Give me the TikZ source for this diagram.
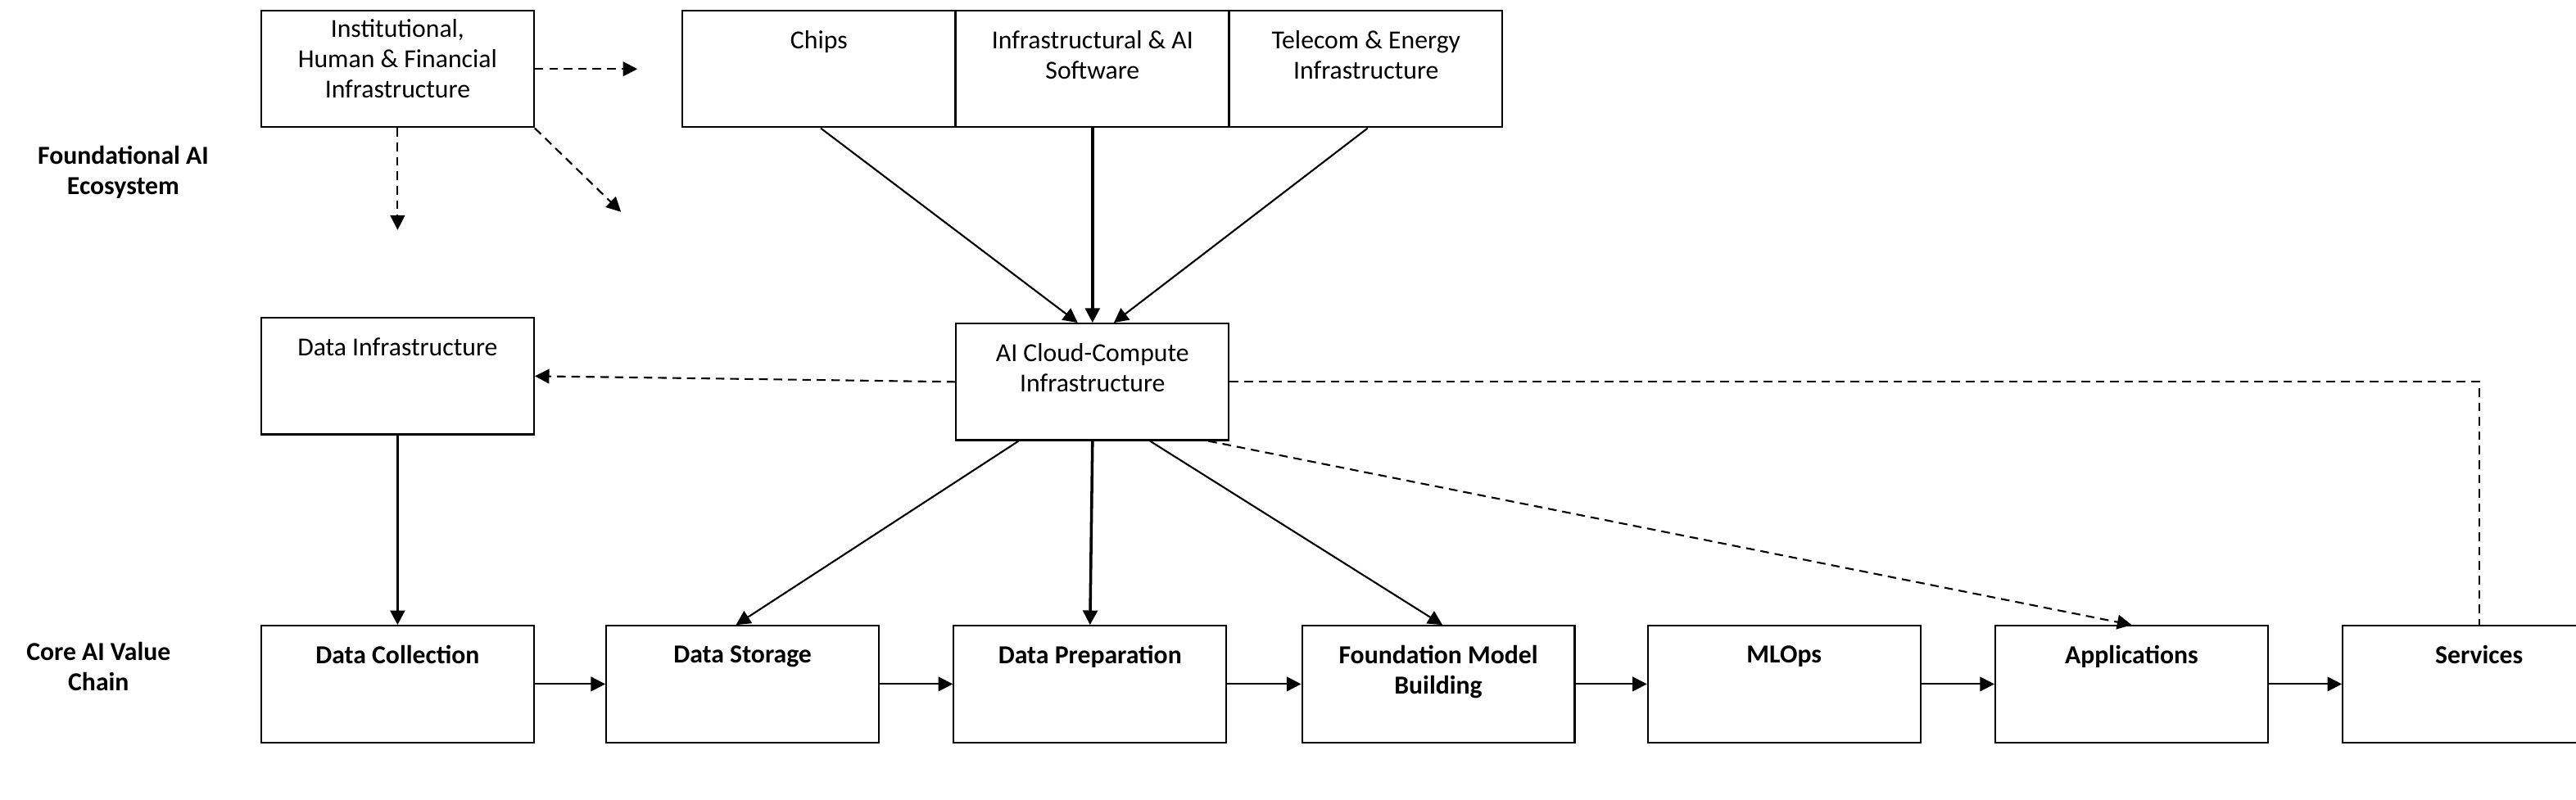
\documentclass[tikz,border=0pt]{standalone}
\usepackage{fontspec}
\setmainfont{Carlito}
\usetikzlibrary{arrows.meta,positioning}

\begin{document}
\begin{tikzpicture}[x=0.02cm, y=-0.02cm, >={Triangle[length=5pt,width=5pt]},
    every node/.style={font=\fontsize{9}{10.5}\selectfont},
    box/.style={draw, line width=0.6pt, minimum width=3.32cm, minimum height=1.42cm, inner sep=0pt},
    txt/.style={anchor=north, align=center, inner sep=2pt},
    link/.style={->, line width=0.6pt},
    dlink/.style={line width=0.6pt, dash pattern=on 3pt off 2pt}]
    \useasboundingbox (0,0) rectangle (1568,487);
    \clip (0,0) rectangle (1568,487);
    % side labels
    \node[align=center, font=\fontsize{9}{10.5}\selectfont\bfseries] (eco) at (75,105) {Foundational AI\\Ecosystem};
    \node[align=center, font=\fontsize{9}{10.5}\selectfont\bfseries] (core) at (60,406) {Core AI Value\\Chain};
    % ecosystem boxes
    \node[box] (inst) at (242,42) {};
    \node[txt] (instT) at ([yshift=-1pt]inst.north) {Institutional,\\Human \& Financial\\Infrastructure};
    \node[box] (chips) at (498.5,42) {};
    \node[txt] (chipsT) at ([yshift=-5pt]chips.north) {Chips};
    \node[box] (soft) at (665,42) {};
    \node[txt] (softT) at ([yshift=-5pt]soft.north) {Infrastructural \& AI\\Software};
    \node[box] (tele) at (831.5,42) {};
    \node[txt] (teleT) at ([yshift=-5pt]tele.north) {Telecom \& Energy\\Infrastructure};
    \node[box] (dinf) at (242,229) {};
    \node[txt] (dinfT) at ([yshift=-5pt]dinf.north) {Data Infrastructure};
    \node[box] (cloud) at (665,232.5) {};
    \node[txt] (cloudT) at ([yshift=-5pt]cloud.north) {AI Cloud-Compute\\Infrastructure};
    % value chain
    \foreach \n/\x/\t in {coll/242/Data Collection, stor/452/Data Storage, prep/663.5/Data Preparation,
        found/875.5/Foundation Model\\Building, mlops/1086/MLOps, apps/1297.5/Applications, serv/1509/Services} {
        \node[box] (\n) at (\x,416.5) {};
        \node[txt, font=\fontsize{9}{10.5}\selectfont\bfseries] (\n T) at ([yshift=-5pt]\n.north) {\t};
    }
    \foreach \a/\b in {coll/stor, stor/prep, prep/found, found/mlops, mlops/apps, apps/serv}
        \draw[link] (\a) -- (\b);
    % dashed from institutional
    \coordinate (e1) at (388,42);
    \coordinate (e2) at (242,140);
    \coordinate (e3) at (378,129);
    \draw[dlink,->] (inst.east) -- (e1);
    \draw[dlink,->] (inst.south) -- (e2);
    \draw[dlink,->] (inst.south east) -- (e3);
    % into cloud
    \draw[link] ([xshift=-1.65cm]chips.south east) -- ([xshift=-0.18cm]cloud.north);
    \draw[link, line width=1pt] (soft.south) -- (cloud.north);
    \draw[link] ([xshift=0.02cm]tele.south) -- ([xshift=0.26cm]cloud.north);
    % from cloud
    \draw[dlink,->] (cloud.west) -- (dinf.east);
    \draw[dlink] (cloud.east) -| (serv.north);
    \draw[dlink,->] ([xshift=-0.26cm]cloud.south east) -- (apps.north);
    \draw[link] ([xshift=-0.9cm]cloud.south) -- ([xshift=-0.08cm]stor.north);
    \draw[link, line width=1pt] (cloud.south) -- (prep.north);
    \draw[link] ([xshift=0.7cm]cloud.south) -- ([xshift=0.05cm]found.north);
    \draw[link, line width=1pt] (dinf.south) -- (coll.north);
\end{tikzpicture}
\end{document}
